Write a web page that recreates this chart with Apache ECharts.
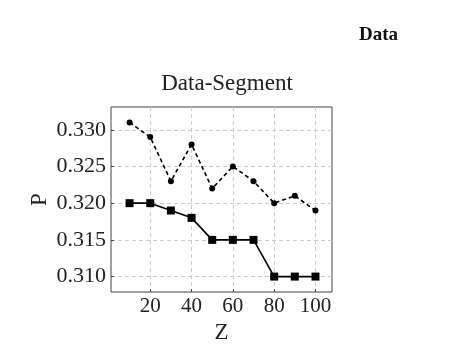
<!DOCTYPE html>
<html><head><meta charset="utf-8">
<script src="https://cdn.jsdelivr.net/npm/echarts@6/dist/echarts.min.js"></script>
<style>html,body{margin:0;padding:0;background:#fff}#c{width:474px;height:362px}</style>
</head><body><div id="c"></div>
<script>
var zValues = [10, 20, 30, 40, 50, 60, 70, 80, 90, 100];
var dashedSeries = [0.331, 0.329, 0.323, 0.328, 0.322, 0.325, 0.323, 0.320, 0.321, 0.319];
var solidSeries = [0.320, 0.320, 0.319, 0.318, 0.315, 0.315, 0.315, 0.310, 0.310, 0.310];
var xTicks = [20, 40, 60, 80, 100];
var yTicks = [0.310, 0.315, 0.320, 0.325, 0.330];

var font = 'Liberation Serif';
var chart = echarts.init(document.getElementById('c'));
function pairs(xs, ys){ return xs.map(function(x,i){return [x, ys[i]];}); }
chart.setOption({
  animation: false,
  title: [
    {text: 'Data', left: 354, top: 21, textStyle: {fontFamily: font, fontWeight: 'bold', fontSize: 19, color: '#111'}},
    {text: 'Data-Segment', left: 222, textAlign: 'center', top: 67, textStyle: {fontFamily: font, fontWeight: 'normal', fontSize: 23, color: '#222'}}
  ],
  grid: {left: 111, right: 142, top: 107, bottom: 70, show: true, borderColor: '#444', borderWidth: 1},
  xAxis: {
    type: 'value', min: 1, max: 108,
    name: 'Z', nameLocation: 'middle', nameGap: 23,
    nameTextStyle: {fontFamily: font, fontSize: 23, color: '#222'},
    axisLine: {show: false},
    axisTick: {show: true, inside: true, length: 3, customValues: xTicks, lineStyle: {color: '#444'}},
    axisLabel: {customValues: xTicks, fontFamily: font, fontSize: 21, color: '#222', margin: 4},
    splitLine: {show: true, lineStyle: {type: [4, 3], color: '#ccc', width: 1}}
  },
  yAxis: {
    type: 'value', min: 0.3079, max: 0.3331,
    name: 'P', nameLocation: 'middle', nameGap: 60, nameRotate: 90,
    nameTextStyle: {fontFamily: font, fontSize: 23, color: '#222'},
    axisLine: {show: false},
    axisTick: {show: true, inside: true, length: 3, customValues: yTicks, lineStyle: {color: '#444'}},
    axisLabel: {customValues: yTicks, fontFamily: font, fontSize: 22, color: '#222', margin: 5,
      formatter: function(v){ return v.toFixed(3); }},
    splitLine: {show: true, lineStyle: {type: [4, 3], color: '#ccc', width: 1}}
  },
  series: [
    {type: 'line', data: pairs(zValues, dashedSeries), symbol: 'circle', symbolSize: 6,
      lineStyle: {color: '#000', width: 1.6, type: [4, 3]}, itemStyle: {color: '#000'}},
    {type: 'line', data: pairs(zValues, solidSeries), symbol: 'rect', symbolSize: 8,
      lineStyle: {color: '#000', width: 1.6}, itemStyle: {color: '#000'}}
  ]
});
</script></body></html>
